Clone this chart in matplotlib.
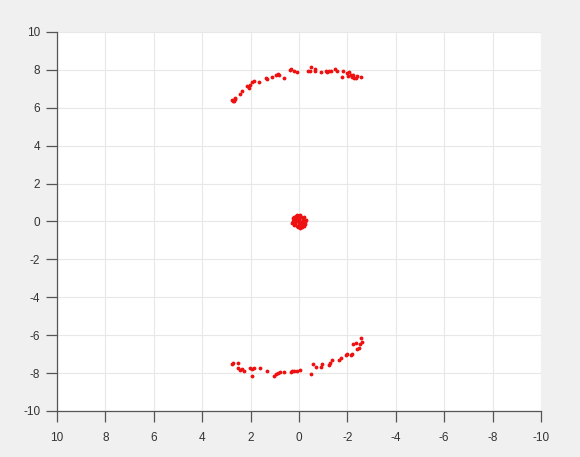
import matplotlib.pyplot as plt
import numpy as np

# upper arc
top_x = [2.72, 2.66, 2.75, 2.68, 2.70, 2.63, 2.42, 2.35, 2.17, 2.04, 2.08, 1.94, 1.84, 1.65,
         1.35, 1.32, 1.11, 0.97, 0.88, 0.81, 0.60, 0.39, 0.32, 0.19, 0.07, -0.36, -0.45,
         -0.51, -0.64, -0.68, -0.89, -1.10, -1.14, -1.23, -1.33, -1.48, -1.58, -1.83, -1.79,
         -2.00, -2.04, -2.06, -2.13, -2.17, -2.24, -2.27, -2.34, -2.38, -2.58]
top_y = [6.35, 6.45, 6.40, 6.38, 6.41, 6.53, 6.71, 6.89, 7.17, 7.20, 7.03, 7.35, 7.41, 7.35,
         7.59, 7.50, 7.61, 7.73, 7.77, 7.73, 7.56, 8.01, 8.05, 7.94, 7.87, 7.96, 7.94,
         8.14, 8.05, 7.96, 7.90, 7.96, 7.87, 7.96, 7.94, 8.05, 7.96, 7.94, 7.61,
         7.82, 7.69, 7.87, 7.73, 7.64, 7.73, 7.56, 7.56, 7.68, 7.61]

# lower arc
bot_x = [2.77, 2.72, 2.53, 2.53, 2.45, 2.35, 2.26, 2.01, 1.94, 1.87, 1.94, 1.62, 1.32, 1.04,
         0.97, 0.88, 0.77, 0.63, 0.35, 0.31, 0.19, 0.10, -0.06, -0.48, -0.59, -0.71, -0.89,
         -0.96, -1.23, -1.30, -1.37, -1.65, -1.72, -1.93, -2.00, -2.16, -2.20, -2.23, -2.34,
         -2.41, -2.48, -2.52, -2.62, -2.55]
bot_y = [-7.54, -7.48, -7.45, -7.75, -7.85, -7.80, -7.87, -7.72, -7.78, -7.75, -8.15, -7.75,
         -7.87, -8.14, -8.05, -7.98, -7.96, -7.96, -7.96, -7.87, -7.89, -7.89, -7.84, -8.05,
         -7.52, -7.69, -7.66, -7.52, -7.57, -7.45, -7.31, -7.31, -7.22, -7.04, -6.99, -7.04,
         -6.98, -6.48, -6.43, -6.73, -6.69, -6.48, -6.34, -6.13]

# central cluster
mid_x = [0.00, 0.10, -0.10, 0.20, -0.20, 0.05, -0.05, 0.15, -0.15, 0.25, -0.25, 0.00,
         0.10, -0.10, 0.20, -0.20, 0.05, -0.05, 0.12, -0.12, 0.00, 0.08, -0.08, 0.28,
         -0.28, 0.18, -0.18, 0.02, -0.02, 0.22, -0.22,
         0.06, -0.06, 0.14, -0.14, 0.00, 0.00, 0.10, -0.10, 0.18, -0.18, 0.04, -0.04,
         0.24, -0.24, 0.14, -0.14]
mid_y = [0.00, 0.05, -0.05, 0.10, -0.10, 0.20, -0.20, -0.15, 0.15, 0.02, -0.02, 0.30,
         -0.25, 0.25, -0.20, 0.22, -0.30, 0.32, 0.12, -0.12, -0.10, 0.35, -0.28, -0.08,
         0.08, 0.18, -0.18, 0.10, -0.33, 0.25, -0.25,
         0.10, -0.10, 0.04, -0.04, 0.16, -0.16, 0.18, -0.18, -0.04, 0.04, 0.26, -0.26,
         0.16, -0.14, 0.28, -0.28]

plt.rcParams['font.family'] = ['Liberation Sans', 'DejaVu Sans']
plt.rcParams['axes.unicode_minus'] = False

fig = plt.figure(figsize=(5.8, 4.57), dpi=100, facecolor='#f0f0f0')
ax = fig.add_axes([0.0983, 0.1007, 0.8345, 0.8293])

for xs, ys in [(top_x, top_y), (bot_x, bot_y), (mid_x, mid_y)]:
    ax.plot(xs, ys, '.', color='#ee1111', markersize=3.5, linestyle='none')

ax.set_xlim(10, -10)
ax.set_ylim(-10, 10)
ax.set_xticks(np.arange(-10, 11, 2))
ax.set_yticks(np.arange(-10, 11, 2))
ax.grid(True, color='#e8e8e8', linewidth=0.8)
ax.set_axisbelow(True)

ax.spines['top'].set_visible(False)
ax.spines['right'].set_visible(False)
for s in ['left', 'bottom']:
    ax.spines[s].set_color('#555555')
    ax.spines[s].set_linewidth(0.9)
ax.tick_params(direction='out', length=8, width=0.9, color='#555555',
               labelsize=8.5, labelcolor='#333333')
ax.tick_params(axis='x', pad=7)
ax.tick_params(axis='y', pad=4)

fig.savefig('out.png', dpi=100, facecolor=fig.get_facecolor())
